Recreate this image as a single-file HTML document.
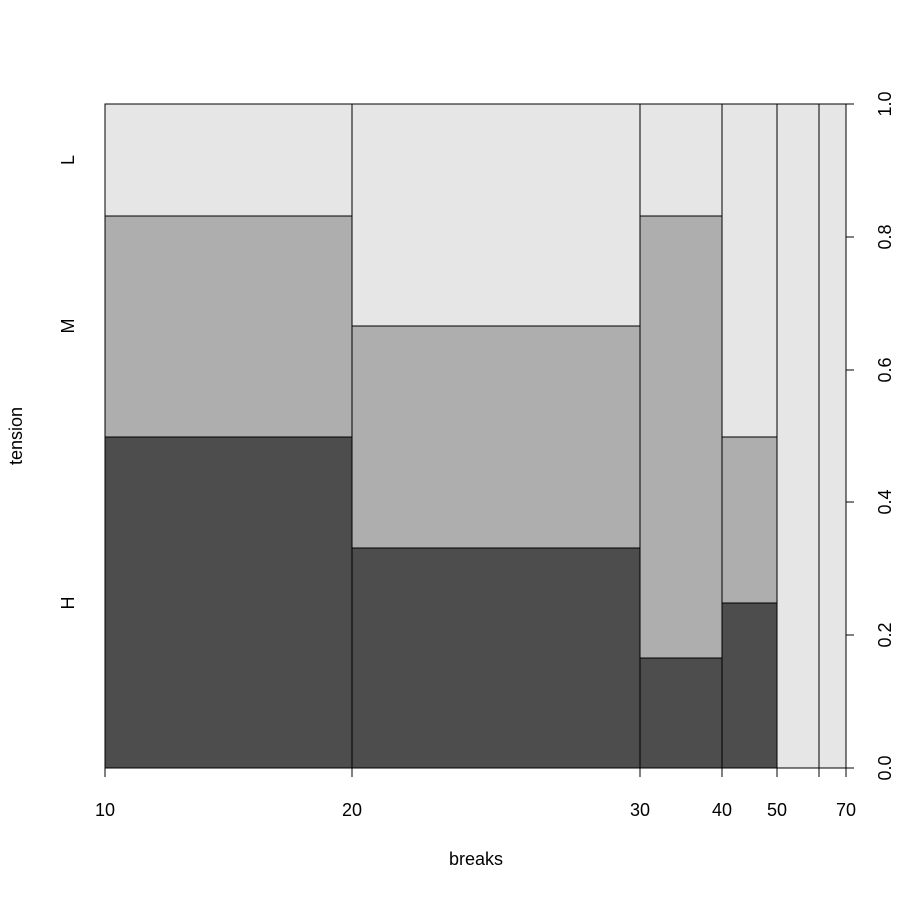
<!DOCTYPE html>
<html><head><style>body{margin:0;background:#fff}</style></head><body>
<svg width="900" height="900" xmlns="http://www.w3.org/2000/svg" font-family="Liberation Sans, Arial, sans-serif" font-size="18" fill="#000">
<g stroke="#000" stroke-width="1">
<rect x="105" y="104" width="247" height="112" fill="#e6e6e6"/>
<rect x="105" y="216" width="247" height="221" fill="#aeaeae"/>
<rect x="105" y="437" width="247" height="331" fill="#4d4d4d"/>
<rect x="352" y="104" width="288" height="222" fill="#e6e6e6"/>
<rect x="352" y="326" width="288" height="222" fill="#aeaeae"/>
<rect x="352" y="548" width="288" height="220" fill="#4d4d4d"/>
<rect x="640" y="104" width="82" height="112" fill="#e6e6e6"/>
<rect x="640" y="216" width="82" height="442" fill="#aeaeae"/>
<rect x="640" y="658" width="82" height="110" fill="#4d4d4d"/>
<rect x="722" y="104" width="55" height="333" fill="#e6e6e6"/>
<rect x="722" y="437" width="55" height="166" fill="#aeaeae"/>
<rect x="722" y="603" width="55" height="165" fill="#4d4d4d"/>
<rect x="777" y="104" width="42" height="664" fill="#e6e6e6"/>
<rect x="819" y="104" width="27" height="664" fill="#e6e6e6"/>
<path d="M105 768v9M352 768v9M640 768v9M722 768v9M777 768v9M819 768v9M846 768v9M105 768H846"/>
<path d="M846 104V768M846 768h8M846 635h8M846 502h8M846 370h8M846 237h8M846 104h8"/>
</g>
<g text-anchor="middle">
<text x="105" y="816">10</text><text x="352" y="816">20</text><text x="640" y="816">30</text>
<text x="722" y="816">40</text><text x="777" y="816">50</text><text x="846" y="816">70</text>
<text x="476" y="865">breaks</text>
<text transform="translate(891,768) rotate(-90)">0.0</text>
<text transform="translate(891,635) rotate(-90)">0.2</text>
<text transform="translate(891,502) rotate(-90)">0.4</text>
<text transform="translate(891,370) rotate(-90)">0.6</text>
<text transform="translate(891,237) rotate(-90)">0.8</text>
<text transform="translate(891,104) rotate(-90)">1.0</text>
<text transform="translate(74,603) rotate(-90)">H</text>
<text transform="translate(74,326) rotate(-90)">M</text>
<text transform="translate(74,160) rotate(-90)">L</text>
<text transform="translate(22,436) rotate(-90)">tension</text>
</g>
</svg>
</body></html>
